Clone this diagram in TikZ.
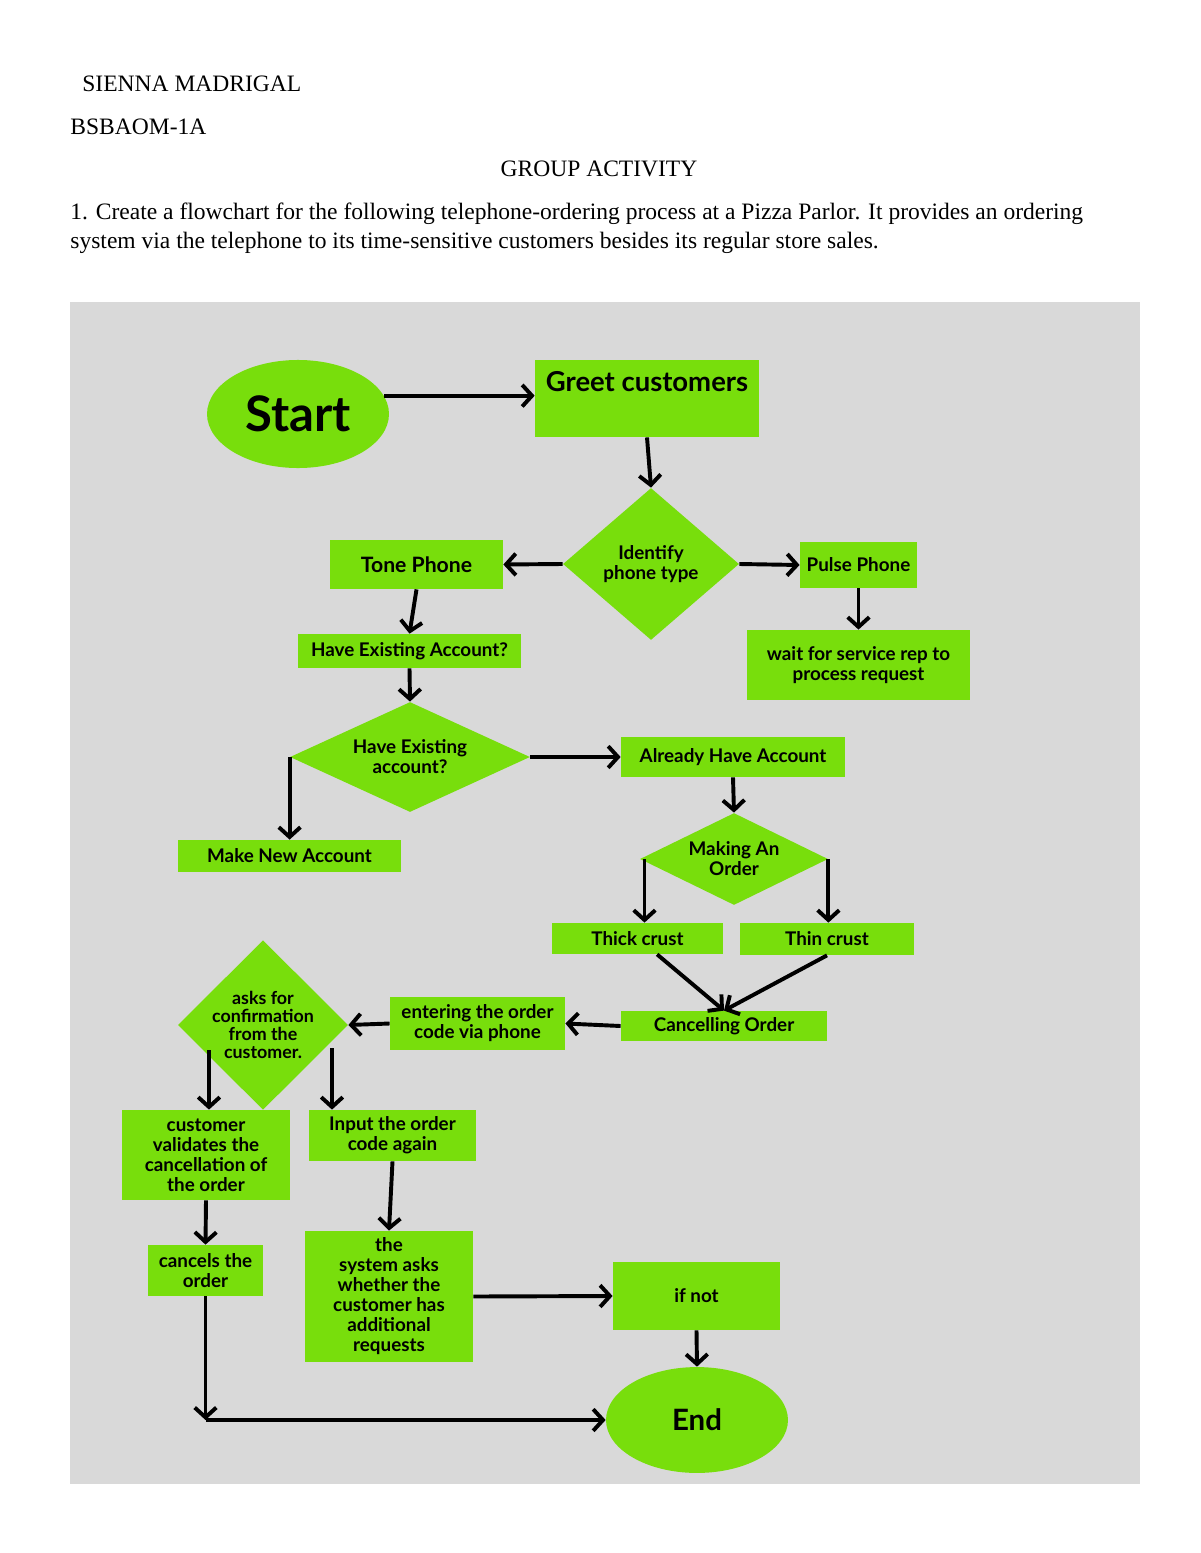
\documentclass[tikz,border=0pt]{standalone}
\usepackage{fontspec}
\setmainfont{Liberation Serif}
\newfontfamily\flowfont{Lato}
\usetikzlibrary{arrows.meta}
\usetikzlibrary{shapes.geometric}
\usetikzlibrary{calc}

\definecolor{leaf}{RGB}{120,222,12}
\definecolor{panel}{RGB}{217,217,217}

\begin{document}
\begin{tikzpicture}[x=0.51pt,y=-0.51pt,
    box/.style={rectangle, fill=leaf, inner sep=1pt, align=center,
      font=\flowfont\bfseries\fontsize{9.6}{10.2}\selectfont},
    choice/.style={diamond, fill=leaf, inner sep=0pt, align=center,
      font=\flowfont\bfseries\fontsize{9.6}{10.2}\selectfont},
    term/.style={ellipse, fill=leaf, inner sep=0pt, font=\flowfont\bfseries},
    arr/.style={-{Straight Barb[length=5pt,width=11pt]}, line width=2pt, black},
    head/.style={anchor=base west, inner sep=0pt, font=\fontsize{12}{14}\selectfont}]

    \useasboundingbox (0,0) rectangle (1200,1553);

    % heading
    \node[head] (name) at (82,92) {SIENNA MADRIGAL};
    \node[head] (course) at (70,135) {BSBAOM-1A};
    \node[head, anchor=base] (title) at (599,177) {GROUP ACTIVITY};
    \node[head] (task1) at (70,220) {1. Create a flowchart for the following telephone-ordering process at a Pizza Parlor. It provides an ordering};
    \node[head] (task2) at (70,248) {system via the telephone to its time-sensitive customers besides its regular store sales.};

    % grey panel
    \fill[panel] (70,302) rectangle (1140,1484);

    % terminals
    \node[term, minimum width=92.8pt, minimum height=55.1pt, font=\flowfont\bfseries\fontsize{25}{28}\selectfont] (start) at (298,414) {Start};
    \node[term, minimum width=92.8pt, minimum height=54pt, font=\flowfont\bfseries\fontsize{15}{17}\selectfont] (end) at (697,1420) {End};

    % top part
    \node[box, minimum width=114.2pt, minimum height=39.3pt, inner sep=0pt, text height=16pt, text depth=23.3pt,
      font=\flowfont\bfseries\fontsize{14}{16}\selectfont] (greet) at (647,398.5) {Greet customers};
    \node[choice, minimum width=89.8pt, minimum height=77.5pt] (phone) at (651,564) {Identify\\phone type};
    \node[box, minimum width=88.2pt, minimum height=25pt, font=\flowfont\bfseries\fontsize{10.8}{12}\selectfont] (tone) at (416.5,564.5) {Tone Phone};
    \node[box, minimum width=59.7pt, minimum height=23.5pt, font=\flowfont\bfseries\fontsize{9.6}{11}\selectfont] (pulse) at (858.5,565) {Pulse Phone};
    \node[box, minimum width=113.7pt, minimum height=35.7pt] (wait) at (858.5,665) {wait for service rep to\\process request};

    % account
    \node[box, minimum width=113.7pt, minimum height=17.3pt] (haveacc) at (409.5,651) {Have Existing Account?};
    \node[choice, aspect=2.2, minimum width=122.4pt, minimum height=56.1pt] (accdia) at (410,757) {Have Existing\\account?};
    \node[box, minimum width=114.2pt, minimum height=20.4pt] (already) at (733,757) {Already Have Account};
    \node[box, minimum width=113.7pt, minimum height=16.3pt] (makenew) at (289.5,856) {Make New Account};

    % order
    \node[choice, aspect=2.05, minimum width=95.9pt, minimum height=46.9pt] (orderdia) at (734,859) {Making An\\Order};
    \node[box, minimum width=87.2pt, minimum height=15.8pt] (thick) at (637.5,938.5) {Thick crust};
    \node[box, minimum width=88.7pt, minimum height=16.3pt] (thin) at (827,939) {Thin crust};
    \node[box, minimum width=105.1pt, minimum height=15.3pt] (cancelling) at (724,1026) {Cancelling Order};
    \node[box, minimum width=89.3pt, minimum height=27pt] (entering) at (477.5,1023.5) {entering the order\\code via phone};
    \node[choice, minimum width=86.7pt, minimum height=81.6pt, font=\flowfont\bfseries\fontsize{9.1}{9.3}\selectfont] (confdia) at (263,1025) {asks for\\confirmation\\from the\\customer.};

    % bottom part
    \node[box, minimum width=85.7pt, minimum height=45.9pt] (valid) at (206,1155) {customer\\validates the\\cancellation of\\the order};
    \node[box, minimum width=85.2pt, minimum height=26pt] (inputagain) at (392.5,1135.5) {Input the order\\code again};
    \node[box, minimum width=58.7pt, minimum height=26pt] (cancels) at (205.5,1270.5) {cancels the\\order};
    \node[box, minimum width=85.7pt, minimum height=66.8pt] (sysasks) at (389,1296.5) {the\\system asks\\whether the\\customer has\\additional\\requests};
    \node[box, minimum width=85.2pt, minimum height=34.7pt] (ifnot) at (696.5,1296) {if not};

    % helper points
    \coordinate (tk) at ([xshift=2.5pt]orderdia.west);
    \coordinate (cl) at ($(confdia.center)+(-54,25)$);
    \coordinate (cr) at ($(confdia.center)+(69,23)$);
    \coordinate (corner) at (cancels.south |- end.west);

    % draw arrows
    \draw[arr] (start.12) -- (start.12 -| greet.west);
    \draw[arr] (greet.south) -- (phone.north);
    \draw[arr] (phone.west) -- (tone.east);
    \draw[arr] (phone.east) -- (pulse.west);
    \draw[arr] (pulse.south) -- (wait.north);
    \draw[arr] (tone.south) -- (haveacc.north);
    \draw[arr] (haveacc.south) -- (accdia.north);
    \draw[arr] (accdia.east) -- (already.west);
    \draw[arr] (accdia.west) -- (accdia.west |- makenew.north);
    \draw[arr] (already.south) -- (orderdia.north);
    \draw[arr] (tk) -- (tk |- thick.north);
    \draw[arr] (orderdia.east) -- (orderdia.east |- thin.north);
    \draw[arr] ([xshift=10pt]thick.south) -- (cancelling.north);
    \draw[arr] (thin.south) -- (cancelling.north);
    \draw[arr] (cancelling.west) -- (entering.east);
    \draw[arr] (entering.west) -- (confdia.east);
    \draw[arr] (cl) -- (cl |- valid.north);
    \draw[arr] (cr) -- (cr |- inputagain.north);
    \draw[arr] (valid.south) -- (cancels.north);
    \draw[arr] (inputagain.south) -- (sysasks.north);
    \draw[arr] (sysasks.east) -- (ifnot.west);
    \draw[arr] (ifnot.south) -- (end.north);
    \draw[arr] (cancels.south) -- (corner);
    \draw[arr] (corner) -- (end.west);
\end{tikzpicture}
\end{document}
